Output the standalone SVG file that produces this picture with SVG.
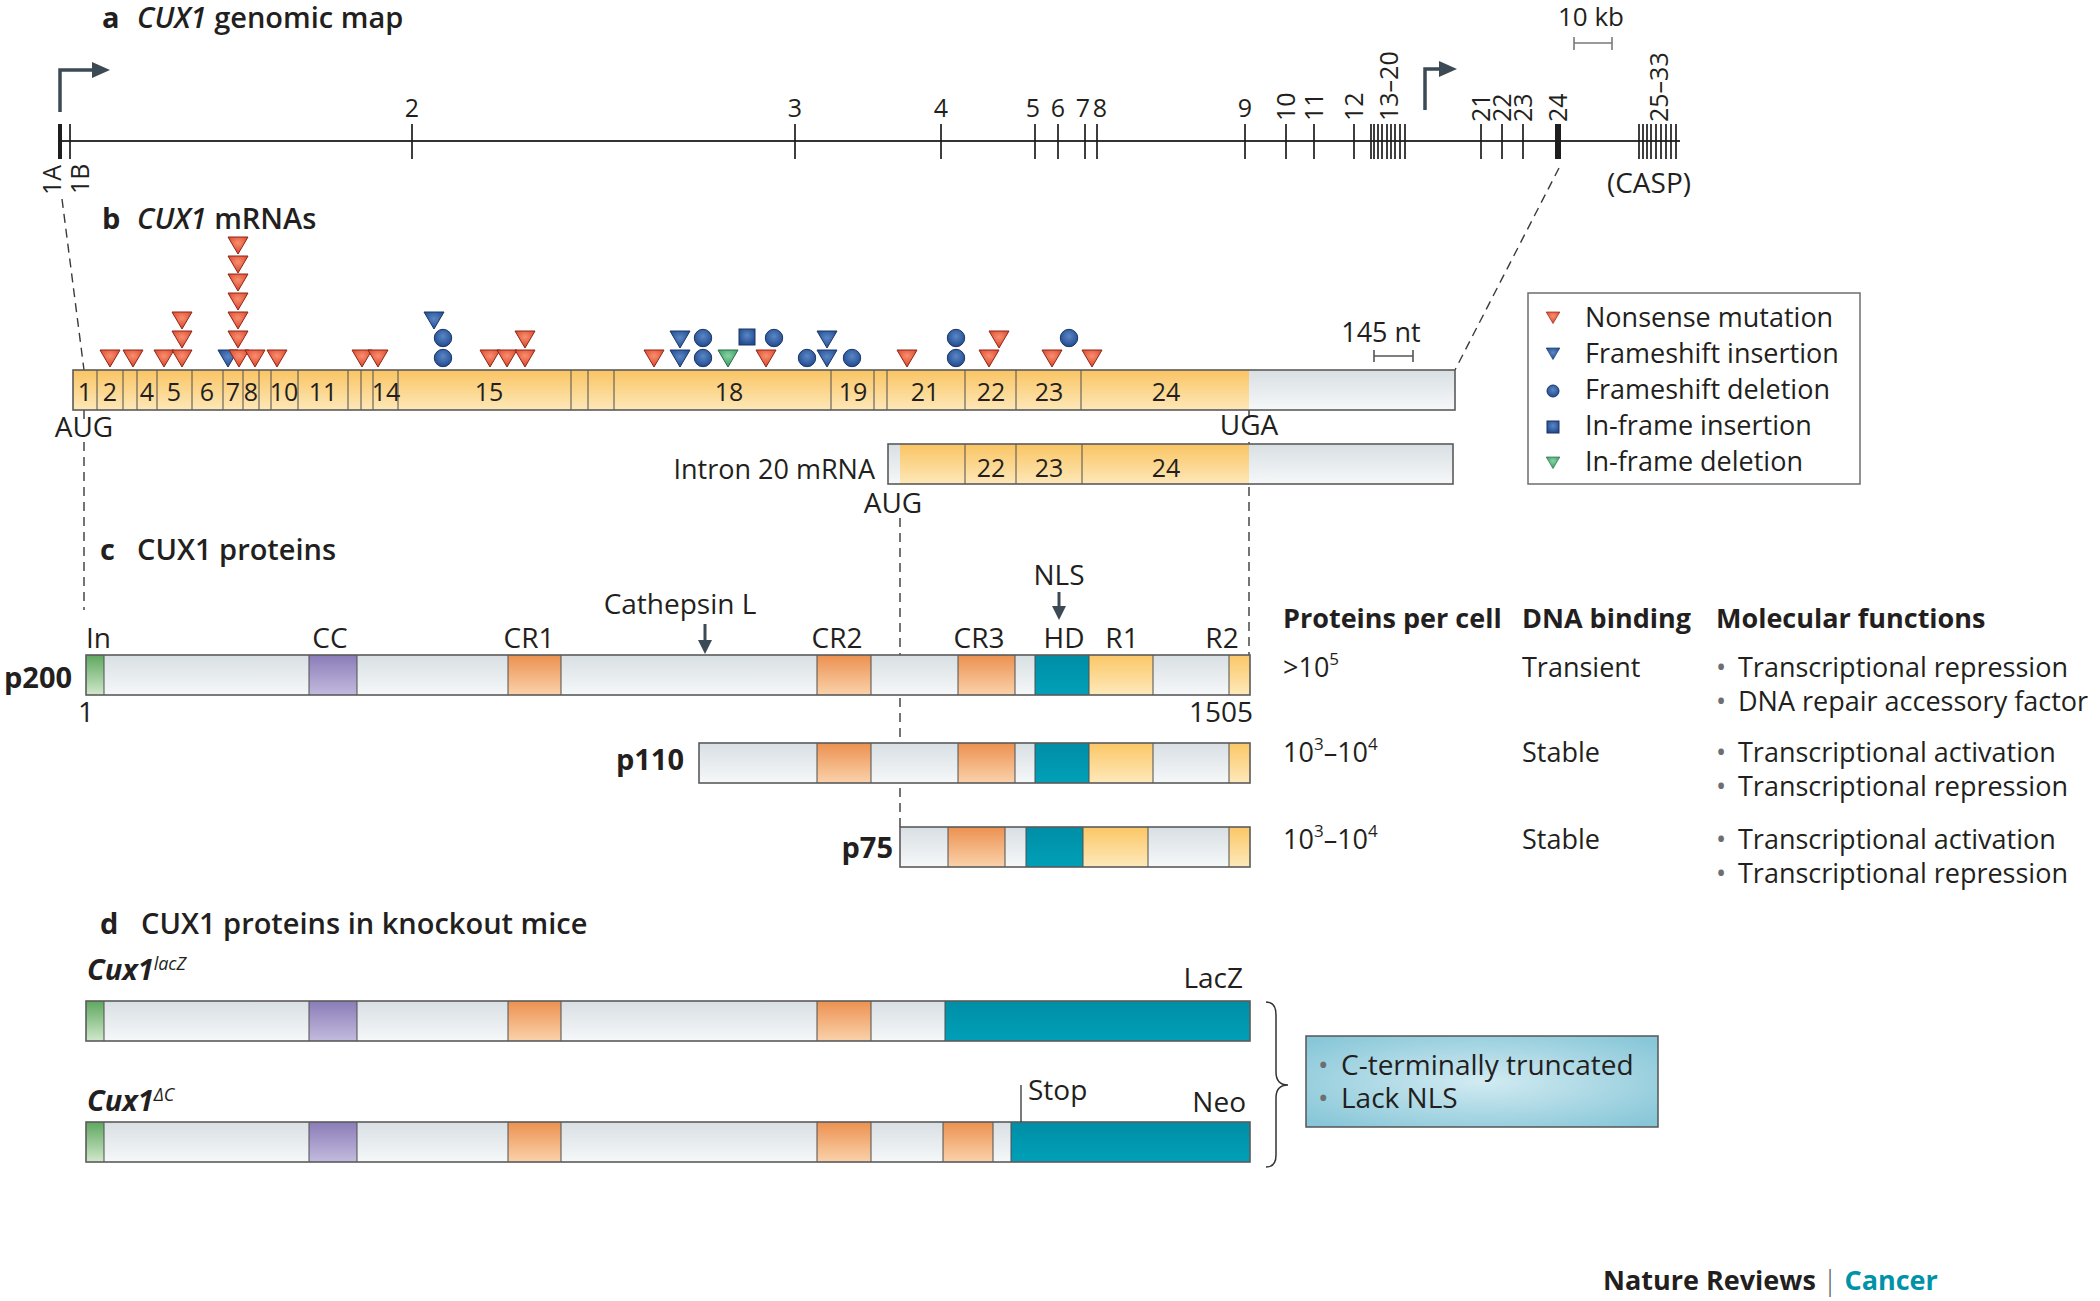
<svg xmlns="http://www.w3.org/2000/svg" width="2100" height="1301" viewBox="0 0 2100 1301">
<style>
text{font-family:"Open Sans","Liberation Sans",sans-serif;fill:#231f20}
.ttl{font-size:29px;font-weight:600}
.tb{font-weight:700}
.it{font-style:italic}
.gn{font-size:25px;text-anchor:middle}
.gr{font-size:25px}
.ex{font-size:25px;text-anchor:middle}
.lb{font-size:28px}
.mid{text-anchor:middle}
.end{text-anchor:end}
.lg{font-size:27px}
.tbl{font-size:27px}
.th{font-size:27px;font-weight:700}
.bul{fill:#6d6e71}
.pl{font-size:29px;font-weight:700}
.dash{fill:none;stroke:#3a3a3a;stroke-width:1.4;stroke-dasharray:9 6}
.tk{stroke:#1e1e1e;stroke-width:1.7;fill:none}
.ol{fill:none;stroke:#5b5b5b;stroke-width:1.6}
.sep{stroke:#4e4e4e;stroke-width:1;fill:none}
.arr{fill:none;stroke:#3b4a55;stroke-width:3.5}
.arrh{fill:#3b4a55}
.mr{fill:url(#gRed);stroke:#8a2716;stroke-width:1}
.mb{fill:url(#gBlue);stroke:#1a3566;stroke-width:1}
.mg{fill:url(#gGreen);stroke:#2a6b45;stroke-width:1}
</style>
<defs>
<linearGradient id="gEx" x1="0" y1="0" x2="0" y2="1"><stop offset="0" stop-color="#fac463"/><stop offset="1" stop-color="#fde8b8"/></linearGradient>
<linearGradient id="gBody" x1="0" y1="0" x2="0" y2="1"><stop offset="0" stop-color="#d8dfe3"/><stop offset="1" stop-color="#f6f8f9"/></linearGradient>
<linearGradient id="gIn" x1="0" y1="0" x2="0" y2="1"><stop offset="0" stop-color="#5ea85f"/><stop offset="1" stop-color="#d1e8cb"/></linearGradient>
<linearGradient id="gCC" x1="0" y1="0" x2="0" y2="1"><stop offset="0" stop-color="#8a7cb8"/><stop offset="1" stop-color="#c3bbde"/></linearGradient>
<linearGradient id="gCR" x1="0" y1="0" x2="0" y2="1"><stop offset="0" stop-color="#ec9150"/><stop offset="1" stop-color="#fad2ab"/></linearGradient>
<linearGradient id="gR" x1="0" y1="0" x2="0" y2="1"><stop offset="0" stop-color="#fbc766"/><stop offset="1" stop-color="#fee9bb"/></linearGradient>
<linearGradient id="gHD" x1="0" y1="0" x2="0" y2="1"><stop offset="0" stop-color="#008ea6"/><stop offset="1" stop-color="#00a0b8"/></linearGradient>
<radialGradient id="gRed" cx="0.5" cy="0.35" r="0.6"><stop offset="0" stop-color="#f7906f"/><stop offset="1" stop-color="#e0442c"/></radialGradient>
<radialGradient id="gBlue" cx="0.5" cy="0.4" r="0.6"><stop offset="0" stop-color="#5a87c6"/><stop offset="1" stop-color="#224b90"/></radialGradient>
<radialGradient id="gGreen" cx="0.5" cy="0.35" r="0.6"><stop offset="0" stop-color="#86d3a2"/><stop offset="1" stop-color="#3a9c66"/></radialGradient>
<radialGradient id="gBox" cx="0.5" cy="0.5" r="0.65"><stop offset="0" stop-color="#d2ebf2"/><stop offset="1" stop-color="#88c7d8"/></radialGradient>
<path id="tri" d="M-10,0H10L0,17Z"/>
<circle id="cir" r="8.7"/>
</defs>
<rect width="2100" height="1301" fill="#fff"/>

<g id="connectors">
<path class="dash" d="M62,199L84,370"/>
<path class="dash" d="M1559,168L1455,370"/>
<path class="dash" d="M84,410V421M84,442V610"/>
<path class="dash" d="M1249,410V418M1249,442V655"/>
<path class="dash" d="M900,518V827"/>
<path d="M1266,1002Q1276,1002 1276,1015V1072Q1276,1085 1288,1085Q1276,1085 1276,1098V1155Q1276,1167 1266,1167" fill="none" stroke="#333" stroke-width="1.5"/>
</g>

<g id="titles">
<text class="ttl" x="102" y="28"><tspan class="tb">a</tspan><tspan x="137" class="it">CUX1</tspan> genomic map</text>
<text class="ttl" x="102" y="229"><tspan class="tb">b</tspan><tspan x="137" class="it">CUX1</tspan> mRNAs</text>
<text class="ttl" x="100" y="560"><tspan class="tb">c</tspan><tspan x="137">CUX1 proteins</tspan></text>
<text class="ttl" x="100" y="934"><tspan class="tb">d</tspan><tspan x="141">CUX1 proteins in knockout mice</tspan></text>
</g>

<g id="genomic-map">
<line x1="58" y1="141" x2="1680" y2="141" stroke="#333" stroke-width="2.2"/>
<path class="tk" d="M70,124V159M412,124V159M795,124V159M941,124V159M1035,124V159M1058,124V159M1085,124V159M1097,124V159M1245,124V159M1286,124V159M1314,124V159M1354,124V159M1371,124V159M1374,124V159M1378,124V159M1382,124V159M1387,124V159M1391,124V159M1395,124V159M1400,124V159M1405,124V159M1481,124V159M1502,124V159M1523,124V159M1639,124V159M1643,124V159M1647,124V159M1651,124V159M1656,124V159M1661,124V159M1666,124V159M1671,124V159M1676,124V159"/>
<line x1="60" y1="124" x2="60" y2="159" stroke="#1e1e1e" stroke-width="4"/>
<line x1="1558" y1="124" x2="1558" y2="159" stroke="#1e1e1e" stroke-width="6"/>
<path class="arr" d="M60,112V70H94"/>
<polygon class="arrh" points="92,62 110,70 92,78"/>
<path class="arr" d="M1425,110V69H1441"/>
<polygon class="arrh" points="1439,61 1457,69 1439,77"/>
<text class="gn" x="412" y="117">2</text>
<text class="gn" x="795" y="117">3</text>
<text class="gn" x="941" y="117">4</text>
<text class="gn" x="1033" y="117">5</text>
<text class="gn" x="1058" y="117">6</text>
<text class="gn" x="1083" y="117">7</text>
<text class="gn" x="1100" y="117">8</text>
<text class="gn" x="1245" y="117">9</text>
<text class="gr" transform="translate(1295,121) rotate(-90)">10</text>
<text class="gr" transform="translate(1323,121) rotate(-90)">11</text>
<text class="gr" transform="translate(1363,121) rotate(-90)">12</text>
<text class="gr" transform="translate(1398,121) rotate(-90)">13–20</text>
<text class="gr" transform="translate(1490,122) rotate(-90)">21</text>
<text class="gr" transform="translate(1511,122) rotate(-90)">22</text>
<text class="gr" transform="translate(1532,122) rotate(-90)">23</text>
<text class="gr" transform="translate(1567,122) rotate(-90)">24</text>
<text class="gr" transform="translate(1668,122) rotate(-90)">25–33</text>
<text class="gr" transform="translate(61,195) rotate(-90)">1A</text>
<text class="gr" transform="translate(89,194) rotate(-90)">1B</text>
<text class="lb mid" x="1649" y="193">(CASP)</text>
<text class="lb mid" x="1591" y="26" style="font-size:26px">10 kb</text>
<path d="M1574,43H1612M1574,37V50M1612,37V50" stroke="#7a7a7a" stroke-width="1.6" fill="none"/>
</g>

<g id="mrna">
<rect x="73" y="370" width="1176" height="40" fill="url(#gEx)"/>
<rect x="1249" y="370" width="206" height="40" fill="url(#gBody)"/>
<path class="sep" d="M97,370V410M123,370V410M137,370V410M157,370V410M192,370V410M223,370V410M243,370V410M259,370V410M271,370V410M298,370V410M348,370V410M361,370V410M373,370V410M398,370V410M571,370V410M588,370V410M614,370V410M831,370V410M874,370V410M887,370V410M965,370V410M1016,370V410M1081,370V410"/>
<rect class="ol" x="73" y="370" width="1382" height="40"/>
<text class="ex" x="85" y="401">1</text>
<text class="ex" x="110" y="401">2</text>
<text class="ex" x="147" y="401">4</text>
<text class="ex" x="174" y="401">5</text>
<text class="ex" x="207" y="401">6</text>
<text class="ex" x="233" y="401">7</text>
<text class="ex" x="251" y="401">8</text>
<text class="ex" x="284" y="401">10</text>
<text class="ex" x="323" y="401">11</text>
<text class="ex" x="386" y="401">14</text>
<text class="ex" x="489" y="401">15</text>
<text class="ex" x="729" y="401">18</text>
<text class="ex" x="853" y="401">19</text>
<text class="ex" x="925" y="401">21</text>
<text class="ex" x="991" y="401">22</text>
<text class="ex" x="1049" y="401">23</text>
<text class="ex" x="1166" y="401">24</text>
<text class="lb mid" x="84" y="437">AUG</text>
<text class="lb mid" x="1249" y="435">UGA</text>
<text class="lb mid" x="1381" y="342" style="font-size:27px">145 nt</text>
<path d="M1374,356H1413M1374,350V362M1413,350V362" stroke="#555" stroke-width="1.6" fill="none"/>
</g>

<g id="mutations">
<use href="#tri" class="mb" x="228" y="350"/>
<use href="#tri" class="mr" x="110" y="350"/>
<use href="#tri" class="mr" x="133" y="350"/>
<use href="#tri" class="mr" x="164" y="350"/>
<use href="#tri" class="mr" x="182" y="350"/>
<use href="#tri" class="mr" x="239" y="350"/>
<use href="#tri" class="mr" x="255" y="350"/>
<use href="#tri" class="mr" x="277" y="350"/>
<use href="#tri" class="mr" x="362" y="350"/>
<use href="#tri" class="mr" x="378" y="350"/>
<use href="#tri" class="mr" x="490" y="350"/>
<use href="#tri" class="mr" x="507" y="350"/>
<use href="#tri" class="mr" x="525" y="350"/>
<use href="#tri" class="mr" x="654" y="350"/>
<use href="#tri" class="mr" x="766" y="350"/>
<use href="#tri" class="mr" x="907" y="350"/>
<use href="#tri" class="mr" x="989" y="350"/>
<use href="#tri" class="mr" x="1052" y="350"/>
<use href="#tri" class="mr" x="1092" y="350"/>
<use href="#tri" class="mb" x="680" y="350"/>
<use href="#tri" class="mb" x="827" y="350"/>
<use href="#tri" class="mg" x="728" y="350"/>
<use href="#cir" class="mb" x="443" y="358"/>
<use href="#cir" class="mb" x="703" y="358"/>
<use href="#cir" class="mb" x="807" y="358"/>
<use href="#cir" class="mb" x="852" y="358"/>
<use href="#cir" class="mb" x="956" y="358"/>
<use href="#tri" class="mr" x="182" y="331"/>
<use href="#tri" class="mr" x="238" y="331"/>
<use href="#tri" class="mr" x="525" y="331"/>
<use href="#tri" class="mr" x="999" y="331"/>
<use href="#tri" class="mb" x="680" y="331"/>
<use href="#tri" class="mb" x="827" y="331"/>
<use href="#cir" class="mb" x="443" y="338"/>
<use href="#cir" class="mb" x="703" y="338"/>
<use href="#cir" class="mb" x="774" y="338"/>
<use href="#cir" class="mb" x="956" y="338"/>
<use href="#cir" class="mb" x="1069" y="338"/>
<rect class="mb" x="739" y="329" width="16" height="16"/>
<use href="#tri" class="mr" x="182" y="312"/>
<use href="#tri" class="mr" x="238" y="312"/>
<use href="#tri" class="mb" x="434" y="312"/>
<use href="#tri" class="mr" x="238" y="293"/>
<use href="#tri" class="mr" x="238" y="274"/>
<use href="#tri" class="mr" x="238" y="256"/>
<use href="#tri" class="mr" x="238" y="237"/>
</g>

<g id="intron20-mrna">
<rect x="888" y="444" width="12" height="40" fill="url(#gBody)"/>
<rect x="900" y="444" width="349" height="40" fill="url(#gEx)"/>
<rect x="1249" y="444" width="204" height="40" fill="url(#gBody)"/>
<path class="sep" d="M965,444V484M1016,444V484M1082,444V484"/>
<rect class="ol" x="888" y="444" width="565" height="40"/>
<text class="ex" x="991" y="477">22</text>
<text class="ex" x="1049" y="477">23</text>
<text class="ex" x="1166" y="477">24</text>
<text class="lb end" x="875" y="479" style="font-size:27px">Intron 20 mRNA</text>
<text class="lb mid" x="893" y="513">AUG</text>
</g>

<g id="legend">
<rect x="1528" y="293" width="332" height="191" fill="#fff" stroke="#6e6e6e" stroke-width="1.5"/>
<use href="#tri" class="mr" transform="translate(1553,312) scale(0.68)"/>
<use href="#tri" class="mb" transform="translate(1553,348) scale(0.68)"/>
<circle class="mb" cx="1553" cy="391" r="6"/>
<rect class="mb" x="1547" y="421" width="12" height="12"/>
<use href="#tri" class="mg" transform="translate(1553,457) scale(0.68)"/>
<text class="lg" x="1585" y="327">Nonsense mutation</text>
<text class="lg" x="1585" y="363">Frameshift insertion</text>
<text class="lg" x="1585" y="399">Frameshift deletion</text>
<text class="lg" x="1585" y="435">In-frame insertion</text>
<text class="lg" x="1585" y="471">In-frame deletion</text>
</g>

<g id="p200">
<rect x="86" y="655" width="1164" height="40" fill="url(#gBody)"/>
<rect x="86" y="655" width="18" height="40" fill="url(#gIn)"/>
<rect x="309" y="655" width="48" height="40" fill="url(#gCC)"/>
<rect x="508" y="655" width="53" height="40" fill="url(#gCR)"/>
<rect x="817" y="655" width="54" height="40" fill="url(#gCR)"/>
<rect x="958" y="655" width="57" height="40" fill="url(#gCR)"/>
<rect x="1035" y="655" width="54" height="40" fill="url(#gHD)"/>
<rect x="1089" y="655" width="64" height="40" fill="url(#gR)"/>
<rect x="1229" y="655" width="21" height="40" fill="url(#gR)"/>
<path class="sep" d="M104,655v40M309,655v40M357,655v40M508,655v40M561,655v40M817,655v40M871,655v40M958,655v40M1015,655v40M1035,655v40M1089,655v40M1153,655v40M1229,655v40"/>
<rect class="ol" x="86" y="655" width="1164" height="40"/>
<text class="lb" x="86" y="648">In</text>
<text class="lb mid" x="330" y="648">CC</text>
<text class="lb mid" x="529" y="648">CR1</text>
<text class="lb mid" x="837" y="648">CR2</text>
<text class="lb mid" x="979" y="648">CR3</text>
<text class="lb mid" x="1064" y="648">HD</text>
<text class="lb mid" x="1122" y="648">R1</text>
<text class="lb mid" x="1222" y="648">R2</text>
<text class="lb mid" x="680" y="614">Cathepsin L</text>
<path class="arr" d="M705,624V642" style="stroke-width:3"/>
<polygon class="arrh" points="698,640 712,640 705,654"/>
<text class="lb mid" x="1059" y="585">NLS</text>
<path class="arr" d="M1059,592V608" style="stroke-width:3"/>
<polygon class="arrh" points="1052,606 1066,606 1059,620"/>
<text class="lb mid" x="86" y="722">1</text>
<text class="lb end" x="1253" y="722">1505</text>
<text class="pl" x="4" y="688">p200</text>
</g>

<g id="p110">
<rect x="699" y="743" width="551" height="40" fill="url(#gBody)"/>
<rect x="817" y="743" width="54" height="40" fill="url(#gCR)"/>
<rect x="958" y="743" width="57" height="40" fill="url(#gCR)"/>
<rect x="1035" y="743" width="54" height="40" fill="url(#gHD)"/>
<rect x="1089" y="743" width="64" height="40" fill="url(#gR)"/>
<rect x="1229" y="743" width="21" height="40" fill="url(#gR)"/>
<path class="sep" d="M817,743v40M871,743v40M958,743v40M1015,743v40M1035,743v40M1089,743v40M1153,743v40M1229,743v40"/>
<rect class="ol" x="699" y="743" width="551" height="40"/>
<text class="pl end" x="684" y="770">p110</text>
</g>

<g id="p75">
<rect x="900" y="827" width="350" height="40" fill="url(#gBody)"/>
<rect x="948" y="827" width="57" height="40" fill="url(#gCR)"/>
<rect x="1026" y="827" width="57" height="40" fill="url(#gHD)"/>
<rect x="1083" y="827" width="65" height="40" fill="url(#gR)"/>
<rect x="1229" y="827" width="21" height="40" fill="url(#gR)"/>
<path class="sep" d="M948,827v40M1005,827v40M1026,827v40M1083,827v40M1148,827v40M1229,827v40"/>
<rect class="ol" x="900" y="827" width="350" height="40"/>
<text class="pl end" x="893" y="858">p75</text>
</g>

<g id="protein-table">
<text class="th" x="1283" y="628">Proteins per cell</text>
<text class="th" x="1522" y="628">DNA binding</text>
<text class="th" x="1716" y="628">Molecular functions</text>
<text class="tbl" x="1283" y="677">&gt;10<tspan dy="-12" font-size="17">5</tspan></text>
<text class="tbl" x="1522" y="677">Transient</text>
<text class="tbl" x="1716" y="677"><tspan class="bul">•</tspan><tspan x="1738">Transcriptional repression</tspan></text>
<text class="tbl" x="1716" y="711"><tspan class="bul">•</tspan><tspan x="1738">DNA repair accessory factor</tspan></text>
<text class="tbl" x="1283" y="762">10<tspan dy="-12" font-size="17">3</tspan><tspan dy="12">–10</tspan><tspan dy="-12" font-size="17">4</tspan></text>
<text class="tbl" x="1522" y="762">Stable</text>
<text class="tbl" x="1716" y="762"><tspan class="bul">•</tspan><tspan x="1738">Transcriptional activation</tspan></text>
<text class="tbl" x="1716" y="796"><tspan class="bul">•</tspan><tspan x="1738">Transcriptional repression</tspan></text>
<text class="tbl" x="1283" y="849">10<tspan dy="-12" font-size="17">3</tspan><tspan dy="12">–10</tspan><tspan dy="-12" font-size="17">4</tspan></text>
<text class="tbl" x="1522" y="849">Stable</text>
<text class="tbl" x="1716" y="849"><tspan class="bul">•</tspan><tspan x="1738">Transcriptional activation</tspan></text>
<text class="tbl" x="1716" y="883"><tspan class="bul">•</tspan><tspan x="1738">Transcriptional repression</tspan></text>
</g>

<g id="cux1-lacz">
<text class="pl it" x="87" y="980">Cux1<tspan dy="-10" font-size="18" font-weight="400">lacZ</tspan></text>
<rect x="86" y="1001" width="1164" height="40" fill="url(#gBody)"/>
<rect x="86" y="1001" width="18" height="40" fill="url(#gIn)"/>
<rect x="309" y="1001" width="48" height="40" fill="url(#gCC)"/>
<rect x="508" y="1001" width="53" height="40" fill="url(#gCR)"/>
<rect x="817" y="1001" width="54" height="40" fill="url(#gCR)"/>
<rect x="945" y="1001" width="305" height="40" fill="url(#gHD)"/>
<path class="sep" d="M104,1001v40M309,1001v40M357,1001v40M508,1001v40M561,1001v40M817,1001v40M871,1001v40M945,1001v40"/>
<rect class="ol" x="86" y="1001" width="1164" height="40"/>
<text class="lb end" x="1243" y="988">LacZ</text>
</g>

<g id="cux1-deltaC">
<text class="pl it" x="87" y="1111">Cux1<tspan dy="-10" font-size="18" font-weight="400">ΔC</tspan></text>
<rect x="86" y="1122" width="1164" height="40" fill="url(#gBody)"/>
<rect x="86" y="1122" width="18" height="40" fill="url(#gIn)"/>
<rect x="309" y="1122" width="48" height="40" fill="url(#gCC)"/>
<rect x="508" y="1122" width="53" height="40" fill="url(#gCR)"/>
<rect x="817" y="1122" width="54" height="40" fill="url(#gCR)"/>
<rect x="943" y="1122" width="50" height="40" fill="url(#gCR)"/>
<rect x="1011" y="1122" width="239" height="40" fill="url(#gHD)"/>
<path class="sep" d="M104,1122v40M309,1122v40M357,1122v40M508,1122v40M561,1122v40M817,1122v40M871,1122v40M943,1122v40M993,1122v40M1011,1122v40"/>
<rect class="ol" x="86" y="1122" width="1164" height="40"/>
<line x1="1021" y1="1085" x2="1021" y2="1122" stroke="#333" stroke-width="1.3"/>
<text class="lb" x="1028" y="1100">Stop</text>
<text class="lb end" x="1246" y="1112">Neo</text>
</g>

<g id="summary-box">
<rect x="1306" y="1036" width="352" height="91" fill="url(#gBox)" stroke="#555" stroke-width="1.5"/>
<text class="tbl" x="1318" y="1075" style="font-size:28px"><tspan class="bul">•</tspan><tspan x="1341">C-terminally truncated</tspan></text>
<text class="tbl" x="1318" y="1108" style="font-size:28px"><tspan class="bul">•</tspan><tspan x="1341">Lack NLS</tspan></text>
</g>

<g id="credit">
<text x="1603" y="1290" style="font-size:27px;font-weight:700">Nature Reviews <tspan font-weight="300" fill="#555">|</tspan> <tspan fill="#0093a8">Cancer</tspan></text>
</g>
</svg>
